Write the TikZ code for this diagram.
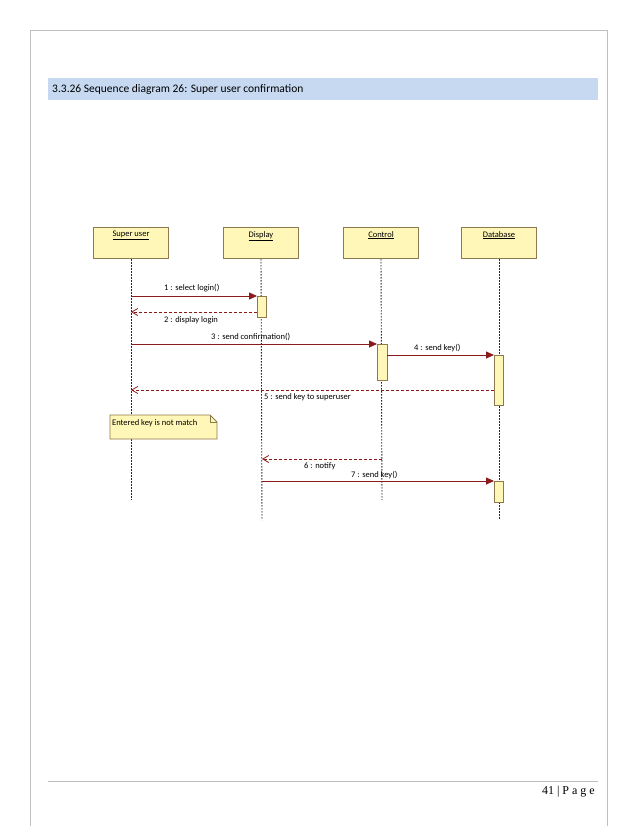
\documentclass[tikz,border=0pt]{standalone}
\usepackage{fontspec}
\setmainfont{Carlito}
\newfontfamily\serifpg{Liberation Serif}
\usetikzlibrary{arrows.meta}
\definecolor{hdr}{HTML}{C6D9F1}
\definecolor{boxfill}{HTML}{FFF7B8}
\definecolor{boxline}{HTML}{8C7A4E}
\definecolor{msg}{HTML}{8B1A1A}
\tikzset{
 head/.style={draw=boxline,line width=1pt,fill=boxfill,minimum width=75pt,minimum height=31pt,anchor=north,inner sep=0pt},
 hlbl/.style={anchor=north,font=\fontsize{8.5}{9}\selectfont,inner sep=0pt},
 life/.style={dash pattern=on 1.5pt off 1.5pt,line width=0.9pt,black!85},
 act/.style={draw=boxline,line width=0.9pt,fill=boxfill},
 call/.style={draw=msg,line width=0.8pt,-{Triangle[length=8pt,width=7pt]}},
 ret/.style={draw=msg,line width=0.8pt,dash pattern=on 3pt off 2pt,-{Straight Barb[length=6pt,width=7pt]}},
 lbl/.style={font=\fontsize{8.5}{9}\selectfont,inner sep=1pt}
}
\begin{document}
\begin{tikzpicture}[x=1pt,y=-1pt]
\useasboundingbox (0,0) rectangle (638,826);
\fill[white] (0,0) rectangle (638,826);
\draw[black!25] (30,826) -- (30,30) -- (607,30) -- (607,826);
\fill[hdr] (48,78) rectangle (598,100);
\node[anchor=west,font=\fontsize{11.5}{13}\selectfont,inner sep=0pt] (title) at (52,89) {3.3.26 Sequence diagram 26: Super user confirmation};
\draw[black!25] (48,781) -- (598,781);
\node[anchor=east,font=\serifpg\fontsize{12}{14}\selectfont,inner sep=0pt] (pg) at (595,792) {41 | P a g e};
% heads
\node[head] (su) at (131,227) {};
\node[head] (di) at (261,227) {};
\node[head] (co) at (381,227) {};
\node[head] (db) at (499,227) {};
\node[hlbl] at (131,231) {\underline{Super user}};
\node[hlbl] at (261,231) {\underline{Display}};
\node[hlbl] at (381,231) {\underline{Control}};
\node[hlbl] at (499,231) {\underline{Database}};
% lifelines
\coordinate (suE) at (131,500); \coordinate (diE) at (262,520);
\coordinate (coE) at (382,500); \coordinate (dbE) at (499,520);
\draw[life] (su.south) -- (suE);
\draw[life] (di.south) -- (diE);
\draw[life] (co.south) -- (coE);
\draw[life] (db.south) -- (dbE);
% activations
\draw[act] (257,296) rectangle (266,317);
\draw[act] (377,344) rectangle (387,380);
\draw[act] (494,355) rectangle (503,405);
\draw[act] (494,481) rectangle (503,502);
% coordinates
\coordinate (a1) at (131,296); \coordinate (b1) at (257,296);
\coordinate (a2) at (257,312); \coordinate (b2) at (131,312);
\coordinate (a3) at (131,344); \coordinate (b3) at (377,344);
\coordinate (a4) at (387,355); \coordinate (b4) at (494,355);
\coordinate (a5) at (494,390); \coordinate (b5) at (131,390);
\coordinate (a6) at (382,459); \coordinate (b6) at (262,459);
\coordinate (a7) at (262,481); \coordinate (b7) at (494,481);
\draw[call] (a1) -- (b1);
\draw[ret] (a2) -- (b2);
\draw[call] (a3) -- (b3);
\draw[call] (a4) -- (b4);
\draw[ret] (a5) -- (b5);
\draw[ret] (a6) -- (b6);
\draw[call] (a7) -- (b7);
\node[lbl,anchor=south west] at (163,293) {1 : select login()};
\node[lbl,anchor=north west] at (163,315) {2 : display login};
\node[lbl,anchor=south west] at (210,342) {3 : send confirmation()};
\node[lbl,anchor=south west] at (413,353) {4 : send key()};
\node[lbl,anchor=north west] at (263,392) {5 : send key to superuser};
\node[lbl,anchor=north west] at (303,461) {6 : notify};
\node[lbl,anchor=south west] at (350,480) {7 : send key()};
% note
\draw[act] (110,415) -- (210,415) -- (217,422) -- (217,439) -- (110,439) -- cycle;
\draw[boxline,line width=0.9pt] (210,415) -- (210,422) -- (217,422);
\node[lbl,anchor=west] (note) at (111,423) {Entered key is not match};
\end{tikzpicture}
\end{document}
